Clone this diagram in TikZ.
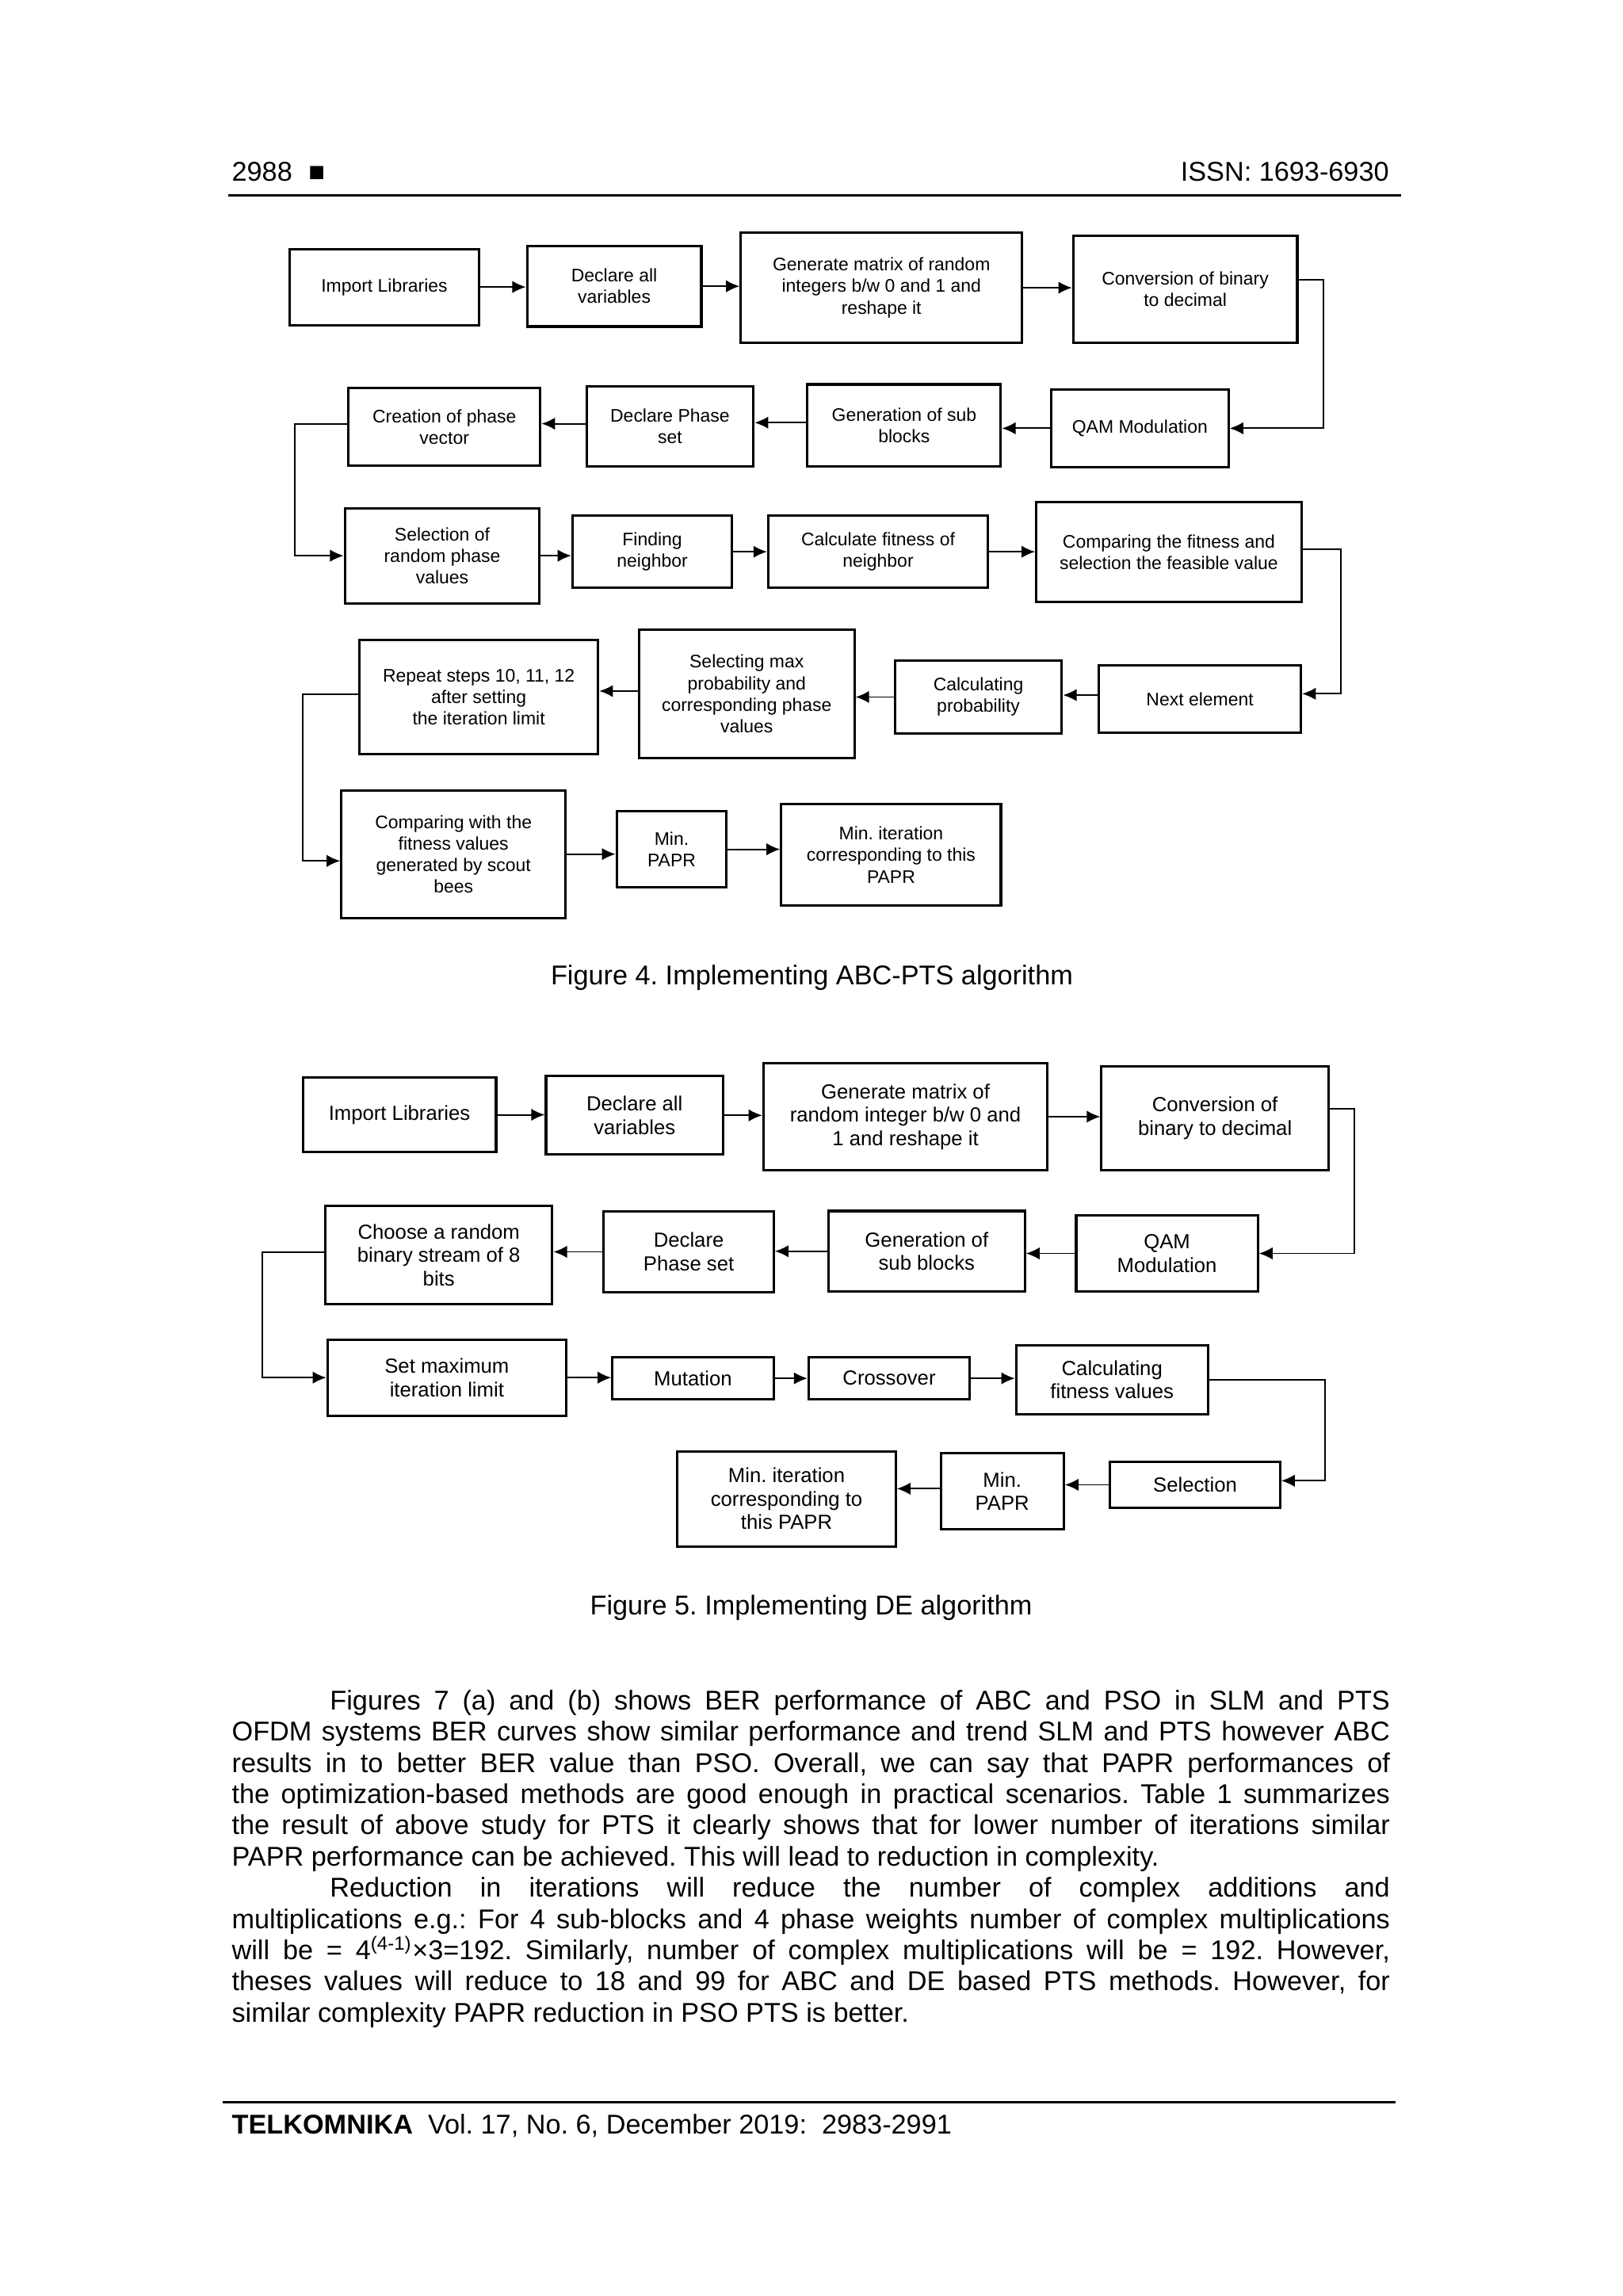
\documentclass[tikz,border=0pt]{standalone}
\usepackage{fontspec}
\setmainfont{Liberation Sans}
\usetikzlibrary{arrows.meta}
\newdimen\pxu \pxu=0.018953cm
\frenchspacing

\begin{document}
\begin{tikzpicture}[x=0.018953cm, y=-0.018953cm,
    boxa/.style={draw, line width=0.9pt, align=center, inner sep=0pt, font=\fontsize{6.7}{7.9}\selectfont},
    boxb/.style={draw, line width=0.9pt, align=center, inner sep=0pt, font=\fontsize{7.5}{8.6}\selectfont},
    sz/.style 2 args={minimum width=#1*\pxu, minimum height=#2*\pxu},
    arr/.style={-{Latex[length=5pt, width=4.5pt]}, line width=0.55pt}]
    \fill[white] (0,0) rectangle (1108,1568);
    \useasboundingbox (0,0) rectangle (1108,1568);
    % Page header
    \node[anchor=base west, inner sep=0pt, font=\fontsize{10}{12}\selectfont] (pgnum) at (158,123.6) {2988\hspace{6pt}■};
    \node[anchor=base east, inner sep=0pt, font=\fontsize{10}{12}\selectfont] (issn) at (949,123.6) {ISSN: 1693-6930};
    \draw[line width=0.8pt] (156,133.5) -- (957,133.5);

    % Figure 4, row 1
    \node[boxa, sz={129}{52}] (imp) at (262.5,196) {Import Libraries};
    \node[boxa, sz={119}{55}] (decl) at (419.5,195.5) {Declare all\\variables};
    \node[boxa, sz={192}{75}] (gen) at (602,196.5) {Generate matrix of random\\integers b/w 0 and 1 and\\reshape it};
    \node[boxa, sz={153}{73}] (conv) at (809.5,197.5) {Conversion of binary\\to decimal};
    % Figure 4, row 2
    \node[boxa, sz={131}{53}] (crea) at (303.5,291.5) {Creation of phase\\vector};
    \node[boxa, sz={114}{55}] (dphs) at (457.6,291.2) {Declare Phase\\set};
    \node[boxa, sz={132}{56}] (gsub) at (617.5,290.5) {Generation of sub\\blocks};
    \node[boxa, sz={121}{53}] (qam) at (778.5,292.5) {QAM Modulation};
    % Figure 4, row 3
    \node[boxa, sz={133}{65}] (srp) at (302,379.5) {Selection of\\random phase\\values};
    \node[boxa, sz={109}{49}] (fnb) at (445.5,376.8) {Finding\\neighbor};
    \node[boxa, sz={150}{49}] (cfn) at (599.7,376.8) {Calculate fitness of\\neighbor};
    \node[boxa, sz={181}{68}] (cmp) at (798.3,377.1) {Comparing the fitness and\\selection the feasible value};
    % Figure 4, row 4
    \node[boxa, sz={163}{78}] (rep) at (327,476) {Repeat steps 10, 11, 12\\after setting\\the iteration limit};
    \node[boxa, sz={147}{88}] (smx) at (510,473.8) {Selecting max\\probability and\\corresponding phase\\values};
    \node[boxa, sz={114}{50}] (cpr) at (668.2,476) {Calculating\\probability};
    \node[boxa, sz={138}{46}] (nxt) at (819.5,477.5) {Next element};
    % Figure 4, row 5
    \node[boxa, sz={153}{87}] (csb) at (309.7,583.3) {Comparing with the\\fitness values\\generated by scout\\bees};
    \node[boxa, sz={75}{52}] (mpp) at (458.7,580) {Min.\\PAPR};
    \node[boxa, sz={150}{69}] (mit) at (608.6,583.8) {Min. iteration\\corresponding to this\\PAPR};
    % Figure 4 connectors
    \draw[arr] (imp.east) -- (imp.east -| decl.west);
    \draw[arr] (decl.east) -- (decl.east -| gen.west);
    \draw[arr] (gen.east) -- (gen.east -| conv.west);
    \draw[arr] ([yshift=3.5pt]conv.east) -- ++(17,0) |- (qam.east);
    \draw[arr] (qam.west) -- (qam.west -| gsub.east);
    \draw[arr] ([yshift=1pt]gsub.west) -- ([yshift=1pt]gsub.west -| dphs.east);
    \draw[arr] ([yshift=1pt]dphs.west) -- ([yshift=1pt]dphs.west -| crea.east);
    \draw[arr] ([yshift=1pt]crea.west) -- ++(-36,0) |- (srp.west);
    \draw[arr] (srp.east) -- (srp.east -| fnb.west);
    \draw[arr] (fnb.east) -- (fnb.east -| cfn.west);
    \draw[arr] (cfn.east) -- (cfn.east -| cmp.west);
    \draw[arr] ([yshift=1pt]cmp.east) -- ++(26,0) |- ([yshift=2pt]nxt.east);
    \draw[arr] ([yshift=1.5pt]nxt.west) -- ([yshift=1.5pt]nxt.west -| cpr.east);
    \draw[arr] (cpr.west) -- (cpr.west -| smx.east);
    \draw[arr] ([yshift=1pt]smx.west) -- ([yshift=1pt]smx.west -| rep.east);
    \draw[arr] ([yshift=1pt]rep.west) -- ++(-38,0) |- ([yshift=-2.5pt]csb.west);
    \draw[arr] (csb.east) -- (csb.east -| mpp.west);
    \draw[arr] (mpp.east) -- (mpp.east -| mit.west);
    \node[anchor=base, inner sep=0pt, font=\fontsize{10}{12}\selectfont] (cap4) at (554.5,672.6) {Figure 4. Implementing ABC-PTS algorithm};

    % Figure 5, row 1
    \node[boxb, sz={132}{51}] (imp2) at (272.8,761.3) {Import Libraries};
    \node[boxb, sz={121}{53.5}] (decl2) at (433.4,761.7) {Declare all\\variables};
    \node[boxb, sz={194}{73}] (gen2) at (618.4,762.6) {Generate matrix of\\random integer b/w 0 and\\1 and reshape it};
    \node[boxb, sz={155}{71}] (conv2) at (829.8,763.5) {Conversion of\\binary to decimal};
    % Figure 5, row 2
    \node[boxb, sz={155}{67}] (chs) at (299.7,857) {Choose a random\\binary stream of 8\\bits};
    \node[boxb, sz={116}{55}] (dph2) at (470.4,854.9) {Declare\\Phase set};
    \node[boxb, sz={134}{55}] (gsb2) at (632.9,854.5) {Generation of\\sub blocks};
    \node[boxb, sz={124}{52}] (qam2) at (797,856) {QAM\\Modulation};
    % Figure 5, row 3
    \node[boxb, sz={163}{52}] (smi) at (305.2,940.8) {Set maximum\\iteration limit};
    \node[boxb, sz={110}{29}] (mut) at (473.3,941.3) {Mutation};
    \node[boxb, sz={110}{29}] (crs) at (607.3,941.3) {Crossover};
    \node[boxb, sz={131}{47}] (cfv) at (759.5,942.2) {Calculating\\fitness values};
    % Figure 5, row 4
    \node[boxb, sz={116}{31}] (sel) at (816.2,1014) {Selection};
    \node[boxb, sz={84}{52}] (mpp2) at (684.5,1018.5) {Min.\\PAPR};
    \node[boxb, sz={149}{65}] (mit2) at (537.2,1023.6) {Min. iteration\\corresponding to\\this PAPR};
    % Figure 5 connectors
    \draw[arr] (imp2.east) -- (imp2.east -| decl2.west);
    \draw[arr] (decl2.east) -- (decl2.east -| gen2.west);
    \draw[arr] (gen2.east) -- (gen2.east -| conv2.west);
    \draw[arr] ([yshift=3.5pt]conv2.east) -- ++(17,0) |- (qam2.east);
    \draw[arr] (qam2.west) -- (qam2.west -| gsb2.east);
    \draw[arr] (gsb2.west) -- (gsb2.west -| dph2.east);
    \draw[arr] (dph2.west) -- (dph2.west -| chs.east);
    \draw[arr] ([yshift=1pt]chs.west) -- ++(-42,0) |- (smi.west);
    \draw[arr] (smi.east) -- (smi.east -| mut.west);
    \draw[arr] (mut.east) -- (mut.east -| crs.west);
    \draw[arr] (crs.east) -- (crs.east -| cfv.west);
    \draw[arr] (cfv.east) -- ++(79,0) |- ([yshift=1.5pt]sel.east);
    \draw[arr] (sel.west) -- (sel.west -| mpp2.east);
    \draw[arr] ([yshift=1pt]mpp2.west) -- ([yshift=1pt]mpp2.west -| mit2.east);
    \node[anchor=base, inner sep=0pt, font=\fontsize{10}{12}\selectfont] (cap5) at (554,1103) {Figure 5. Implementing DE algorithm};

    % Body text
    \node[anchor=base west, inner sep=0pt, text width=14.99cm, align=justify, font=\fontsize{10}{11.5}\selectfont] (body) at (158,1167.6)
    {\parindent=0pt\tolerance=10000\emergencystretch=2em
     \hspace*{1.27cm}Figures 7 (a) and (b) shows BER performance of ABC and PSO in SLM and PTS\linebreak
     OFDM systems BER curves show similar performance and trend SLM and PTS however ABC\linebreak
     results in to better BER value than PSO. Overall, we can say that PAPR performances of\linebreak
     the optimization-based methods are good enough in practical scenarios. Table 1 summarizes\linebreak
     the result of above study for PTS it clearly shows that for lower number of iterations similar\linebreak
     PAPR performance can be achieved. This will lead to reduction in complexity.\par
     \hspace*{1.27cm}Reduction in iterations will reduce the number of complex additions and\linebreak
     multiplications e.g.: For 4 sub-blocks and 4 phase weights number of complex multiplications\linebreak
     will be = 4\textsuperscript{\scriptsize(4-1)}×3=192. Similarly, number of complex multiplications will be = 192. However,\linebreak
     theses values will reduce to 18 and 99 for ABC and DE based PTS methods. However, for\linebreak
     similar complexity PAPR reduction in PSO PTS is better.\par};

    % Page footer
    \draw[line width=0.8pt] (152,1435.5) -- (953,1435.5);
    \node[anchor=base west, inner sep=0pt, font=\fontsize{10}{12}\selectfont] (foot) at (158,1457.5) {\textbf{TELKOMNIKA}\ \ Vol. 17, No. 6, December 2019:\ \ 2983-2991};
\end{tikzpicture}
\end{document}
